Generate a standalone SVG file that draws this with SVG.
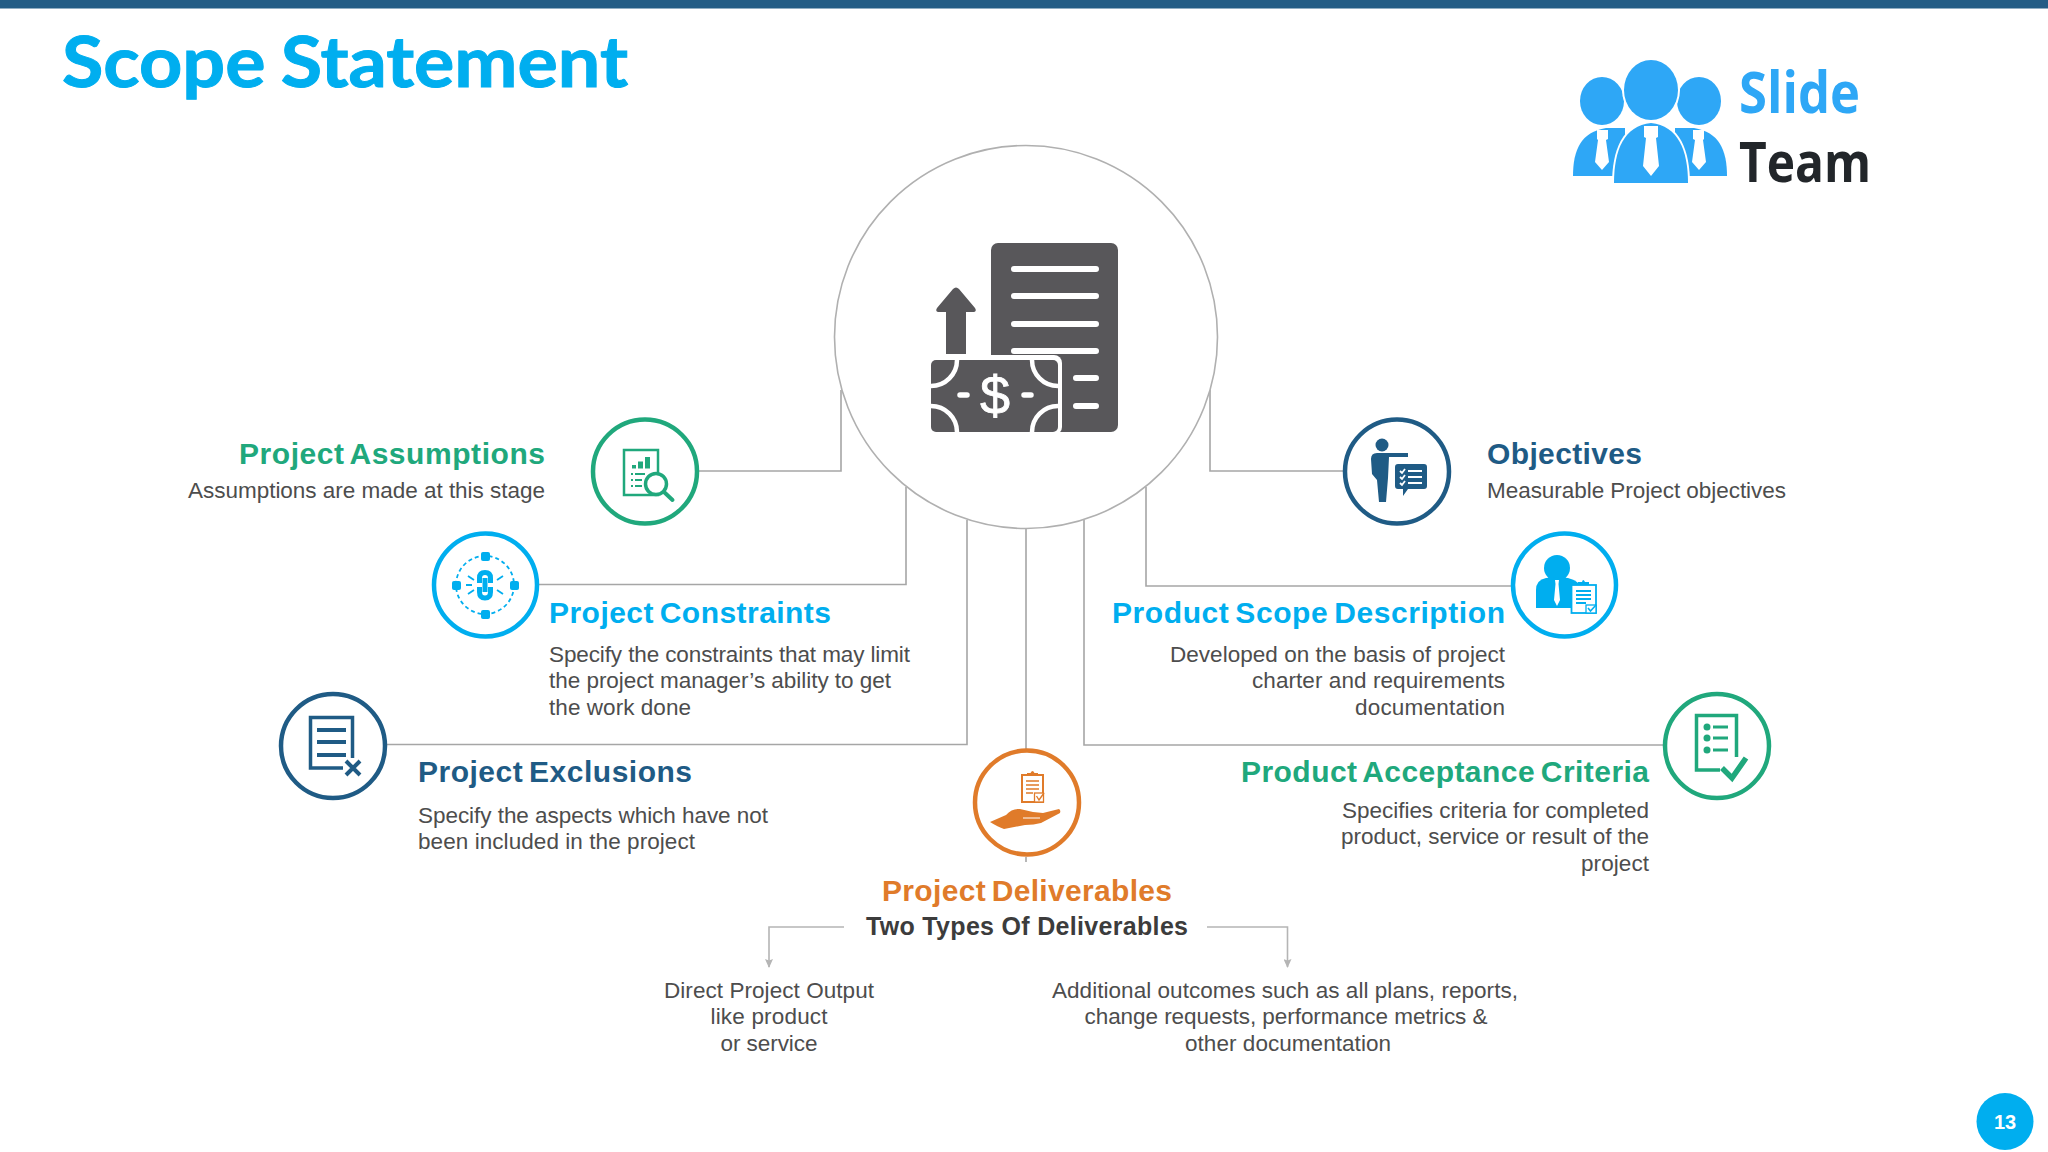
<svg xmlns="http://www.w3.org/2000/svg" width="2048" height="1152" viewBox="0 0 2048 1152">
<style>
text{font-family:"Liberation Sans",Arial,sans-serif}
.h{font-size:30px;font-weight:700;word-spacing:-3px}
.d{font-size:22.5px;fill:#4d4d4d}
.e{text-anchor:end}
.m{text-anchor:middle}
.navy{fill:#1f5b85}.sky{fill:#00aeef}.grn{fill:#20a87c}.org{fill:#e07b2a}
.ring{fill:#fff;stroke-width:4.5}
.cn{fill:none;stroke:#a6a6a6;stroke-width:1.6}
.br{fill:none;stroke:#b5b5b5;stroke-width:1.6}
.w{stroke:#fff;stroke-linecap:round;fill:none}
</style>
<defs>
<marker id="ah" markerWidth="10" markerHeight="8" refX="8" refY="4" orient="auto" markerUnits="userSpaceOnUse" viewBox="0 0 10 8"><path d="M0 0 L1.500 4 L0 8 L9 4Z" fill="#b5b5b5"/></marker>
<clipPath id="bill"><rect x="931" y="360" width="127" height="72" rx="5"/></clipPath>
</defs>
<rect width="2048" height="1152" fill="#fff"/>
<rect id="topbar" width="2048" height="8.500" fill="#235c85"/>
<text id="title" x="62" y="87" font-size="70" font-weight="700" style="font-family:Lato,'Liberation Sans',sans-serif;word-spacing:-3px" fill="#00aeef" stroke="#00aeef" stroke-width="1" textLength="566" lengthAdjust="spacingAndGlyphs">Scope Statement</text>

<g id="logo">
<g fill="#2ea7f6">
<ellipse cx="1602" cy="101" rx="22" ry="24"/>
<ellipse cx="1699" cy="101" rx="22" ry="24"/>
<path d="M1573 176 C1573 150 1581 132 1606 128 L1625 128 L1625 176Z"/>
<path d="M1727 176 C1727 150 1719 132 1694 128 L1675 128 L1675 176Z"/>
</g>
<path d="M1612 185 C1612 150 1622 124 1651 121 C1680 124 1690 150 1690 185Z" fill="#fff"/>
<ellipse cx="1651" cy="90" rx="29" ry="32" fill="#fff"/>
<ellipse cx="1651" cy="90" rx="27" ry="30" fill="#2ea7f6"/>
<path d="M1614 183 C1614 150 1624 126 1651 123 C1678 126 1688 150 1688 183Z" fill="#2ea7f6"/>
<g fill="#fff">
<path d="M1644 126h14v11l-2 1 3 28-8 10-8-10 3-28-2-1Z"/>
<path d="M1597 130h11v9l-2 1 3 22-7 8-7-8 3-22-1-1Z"/>
<path d="M1693 130h11v9l-1 1 3 22-7 8-7-8 3-22-2-1Z"/>
</g>
<text x="1739" y="113" font-size="58" font-weight="700" style="font-family:'Open Sans',sans-serif" fill="#2ea7f6" textLength="121" lengthAdjust="spacingAndGlyphs">Slide</text>
<text x="1739" y="182" font-size="56" font-weight="700" style="font-family:'Open Sans',sans-serif" fill="#22262a" textLength="132" lengthAdjust="spacingAndGlyphs">Team</text>
</g>

<g id="connectors">
<path class="cn" d="M841 390V471H698"/>
<path class="cn" d="M1210 390V471H1343"/>
<path class="cn" d="M906 487V584.500H538"/>
<path class="cn" d="M1146 487V586H1512"/>
<path class="cn" d="M967 520V744.500H387"/>
<path class="cn" d="M1084 520V745H1663"/>
<path class="cn" d="M1026 528V749M1026 857V862"/>
<path class="br" d="M844 927H769V967" marker-end="url(#ah)"/>
<path class="br" d="M1207 927H1287.500V967" marker-end="url(#ah)"/>
</g>

<g id="hub">
<circle cx="1026" cy="337" r="191.500" fill="#fff" stroke="#b0b0b0" stroke-width="1.6"/>
<g fill="#58575a">
<rect x="991" y="243" width="127" height="189" rx="7"/>
<path d="M946 354V312H938Q935 311 937 308L953 289Q956 286 959 289L975 308Q977 311 974 312H966V354Z"/>
</g>
<g class="w" stroke-width="6">
<path d="M1014 269H1096M1014 296H1096M1014 324H1096M1014 351H1096M1076 378H1096M1076 406H1096"/>
</g>
<rect x="926" y="355" width="136" height="80" rx="8" fill="#fff"/>
<rect x="931" y="360" width="127" height="72" rx="5" fill="#58575a"/>
<g clip-path="url(#bill)" fill="none" stroke="#fff" stroke-width="4.500">
<circle cx="931" cy="360" r="26"/><circle cx="1058" cy="360" r="26"/><circle cx="931" cy="432" r="26"/><circle cx="1058" cy="432" r="26"/>
</g>
<path class="w" stroke-width="5.500" d="M960 395H967M1024 395H1031"/>
<text x="995" y="413.500" class="m" font-size="54" fill="#fff" stroke="#fff" stroke-width="0.800">$</text>
</g>

<g id="assumptions">
<circle class="ring" cx="645" cy="471.500" r="52" stroke="#20a87c"/>
<rect x="624" y="450" width="34" height="45" fill="none" stroke="#20a87c" stroke-width="2.500"/>
<g fill="#20a87c"><rect x="632" y="465" width="4" height="3.500"/><rect x="638" y="461.500" width="5" height="7"/><rect x="645" y="457" width="5" height="11.500"/></g>
<path d="M631 474H645M631 480H642M631 486H642" stroke="#20a87c" stroke-width="2" stroke-dasharray="2 2 9 0"/>
<circle cx="656" cy="484" r="10.500" fill="#fff" stroke="#20a87c" stroke-width="3.500"/>
<path d="M664 492L672.500 500" stroke="#20a87c" stroke-width="4" stroke-linecap="round"/>
<text class="h e grn" x="545" y="464" textLength="306">Project Assumptions</text>
<text class="d e" x="545" y="498" textLength="357">Assumptions are made at this stage</text>
</g>

<g id="constraints">
<circle class="ring" cx="485.500" cy="585" r="51.500" stroke="#00aeef"/>
<circle cx="485" cy="585" r="29" fill="none" stroke="#00aeef" stroke-width="1.800" stroke-dasharray="4 3"/>
<g fill="#00aeef"><rect x="481" y="552" width="9" height="9" rx="2"/><rect x="481" y="610" width="9" height="9" rx="2"/><rect x="452" y="581" width="9" height="9" rx="2"/><rect x="510" y="581" width="9" height="9" rx="2"/></g>
<path d="M479.500 583V578Q479.500 572.500 485 572.500Q490.500 572.500 490.500 578V583M479.500 587V592Q479.500 598 485 598Q490.500 598 490.500 592V587M485 578V592" fill="none" stroke="#00aeef" stroke-width="5"/>
<path d="M468 576L474 580M466 585H472M468 594L474 590M503 576L497 580M503 594L497 590" stroke="#00aeef" stroke-width="1.800"/>
<text class="h sky" x="549" y="623" textLength="282">Project Constraints</text>
<text class="d" x="549" y="662" textLength="361">Specify the constraints that may limit</text>
<text class="d" x="549" y="688" textLength="342">the project manager’s ability to get</text>
<text class="d" x="549" y="715" textLength="142">the work done</text>
</g>

<g id="exclusions">
<circle class="ring" cx="333" cy="746" r="52" stroke="#1f5b85"/>
<path d="M343 768H310.500V717.500H352.500V758" fill="none" stroke="#1f5b85" stroke-width="3.500"/>
<path d="M317 730H346M317 742H346M317 755H346" stroke="#1f5b85" stroke-width="4"/>
<path d="M346 761L360 775M360 761L346 775" stroke="#1f5b85" stroke-width="4"/>
<text class="h navy" x="418" y="782" textLength="274">Project Exclusions</text>
<text class="d" x="418" y="823" textLength="350">Specify the aspects which have not</text>
<text class="d" x="418" y="849" textLength="277">been included in the project</text>
</g>

<g id="objectives">
<circle class="ring" cx="1397" cy="471.500" r="52" stroke="#1f5b85"/>
<g fill="#1f5b85">
<circle cx="1382" cy="445" r="6.500"/>
<path d="M1371 459Q1371 453 1377 453H1408V457H1389L1388 478L1386 502H1379L1377 480L1372 474Z"/>
<path d="M1398 464H1424Q1427 464 1427 467V486Q1427 489 1424 489H1408L1403 496V489H1398Q1395 489 1395 486V467Q1395 464 1398 464Z"/>
</g>
<path d="M1400 471L1402 473L1405 469M1400 477L1402 479L1405 475M1400 483L1402 485L1405 481M1408 471H1422M1408 477H1422M1408 483H1422" fill="none" stroke="#fff" stroke-width="1.800"/>
<text class="h navy" x="1487" y="464" textLength="155">Objectives</text>
<text class="d" x="1487" y="498" textLength="299">Measurable Project objectives</text>
</g>

<g id="scope">
<circle class="ring" cx="1564.500" cy="585" r="51.500" stroke="#00aeef"/>
<g fill="#00aeef">
<circle cx="1557" cy="568" r="13"/>
<path d="M1536 608V590Q1536 580 1546 578L1557 577L1568 578Q1576 580 1579 584V608Z"/>
</g>
<path d="M1555 580H1559L1558.500 584L1560 600L1557 606L1554 600L1555.500 584Z" fill="#fff"/>
<rect x="1571.500" y="585" width="24.500" height="28" fill="#fff" stroke="#00aeef" stroke-width="1.800"/>
<path d="M1578 585V582H1582Q1583 578 1585 582H1589V585Z" fill="#00aeef"/>
<path d="M1576 591H1591M1576 595H1591M1576 599H1591M1576 603H1586" stroke="#00aeef" stroke-width="1.800"/>
<rect x="1586" y="605" width="10" height="8" fill="#fff" stroke="#00aeef" stroke-width="1.300"/>
<path d="M1588 608L1590.500 611L1596 605" fill="none" stroke="#00aeef" stroke-width="1.600"/>
<text class="h e sky" x="1505" y="623" textLength="393">Product Scope Description</text>
<text class="d e" x="1505" y="662" textLength="335">Developed on the basis of project</text>
<text class="d e" x="1505" y="688" textLength="253">charter and requirements</text>
<text class="d e" x="1505" y="715" textLength="150">documentation</text>
</g>

<g id="criteria">
<circle class="ring" cx="1717" cy="746" r="52" stroke="#20a87c"/>
<path d="M1720 770H1696.500V715.500H1736.500V757" fill="none" stroke="#20a87c" stroke-width="3.500"/>
<g fill="#20a87c"><circle cx="1707" cy="727" r="3.500"/><circle cx="1707" cy="738" r="3.500"/><circle cx="1707" cy="750" r="3.500"/></g>
<path d="M1713 727H1728M1713 738H1728M1713 750H1728" stroke="#20a87c" stroke-width="3"/>
<path d="M1722 768L1732 778L1746 758" fill="none" stroke="#20a87c" stroke-width="5.500"/>
<text class="h e grn" x="1649" y="782" textLength="408">Product Acceptance Criteria</text>
<text class="d e" x="1649" y="818" textLength="307">Specifies criteria for completed</text>
<text class="d e" x="1649" y="844" textLength="308">product, service or result of the</text>
<text class="d e" x="1649" y="871" textLength="68">project</text>
</g>

<g id="deliverables">
<circle class="ring" cx="1027" cy="802.500" r="52" stroke="#e07b2a"/>
<rect x="1022" y="775" width="21" height="27" fill="#fff" stroke="#e07b2a" stroke-width="2"/>
<path d="M1027 776V773H1030.500Q1032.500 769 1034.500 773H1038V776Z" fill="#e07b2a"/>
<path d="M1026 781H1039M1026 785H1039M1026 789H1039M1026 793H1033" stroke="#e07b2a" stroke-width="1.700"/>
<rect x="1034.500" y="793" width="9" height="9" fill="#fff" stroke="#e07b2a" stroke-width="1.300"/>
<path d="M1036.500 796L1039 800L1044 793" fill="none" stroke="#e07b2a" stroke-width="1.400"/>
<path d="M990 822L1006 815Q1012 808 1020 809L1033 812L1043 813L1059 809Q1061 810 1060 813L1041 823Q1034 825 1025 825L1004 829Q998 827 990 822Z" fill="#e07b2a"/>
<path d="M1023 818H1040" stroke="#fff" stroke-width="1"/>
<text class="h m org" x="1027" y="901" textLength="290">Project Deliverables</text>
<text x="1027" y="935" class="m" font-size="25" font-weight="700" fill="#3c3c3c" textLength="322">Two Types Of Deliverables</text>
<text class="d m" x="769" y="998" textLength="210">Direct Project Output</text>
<text class="d m" x="769" y="1024" textLength="117">like product</text>
<text class="d m" x="769" y="1051" textLength="97">or service</text>
<text class="d m" x="1285" y="998" textLength="466">Additional outcomes such as all plans, reports,</text>
<text class="d m" x="1286" y="1024" textLength="403">change requests, performance metrics &amp;</text>
<text class="d m" x="1288" y="1051" textLength="206">other documentation</text>
</g>

<g id="page">
<circle cx="2005" cy="1121.500" r="28.500" fill="#00aeef"/>
<text x="2005" y="1129" class="m" font-size="20" font-weight="700" fill="#fff">13</text>
</g>
</svg>
